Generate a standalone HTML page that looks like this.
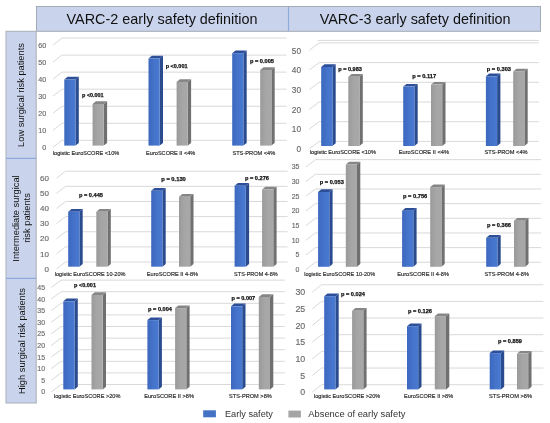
<!DOCTYPE html>
<html><head><meta charset="utf-8"><title>Early safety by surgical risk</title>
<style>
html,body{margin:0;padding:0;background:#fff;}
svg{display:block;font-family:"Liberation Sans", Arial, sans-serif;}
</style></head>
<body>
<svg width="550" height="423" viewBox="0 0 550 423">
<defs>
<linearGradient id="gb" x1="0" y1="0" x2="1" y2="0"><stop offset="0" stop-color="#3C68BE"/><stop offset="0.5" stop-color="#4573CA"/><stop offset="1" stop-color="#4979D2"/></linearGradient>
<linearGradient id="gg" x1="0" y1="0" x2="1" y2="0"><stop offset="0" stop-color="#9A9A9A"/><stop offset="0.5" stop-color="#A6A6A6"/><stop offset="1" stop-color="#A8A8A8"/></linearGradient>
</defs>
<rect width="550" height="423" fill="#fff"/>
<rect x="36.5" y="6.5" width="504" height="24.8" fill="#C9D4EC" stroke="#A4AAB6" stroke-width="1"/>
<line x1="288.5" y1="7" x2="288.5" y2="31" stroke="#8EA9DB" stroke-width="1.2"/>
<text x="162" y="24.1" font-size="14.4" fill="#111" text-anchor="middle">VARC-2 early safety definition</text>
<text x="415.2" y="24.1" font-size="14.4" fill="#111" text-anchor="middle">VARC-3 early safety definition</text>
<rect x="6" y="31.3" width="30.2" height="371.7" fill="#C9D4EC" stroke="#A8AEB8" stroke-width="1"/>
<line x1="6" y1="158.4" x2="36" y2="158.4" stroke="#8EA9DB" stroke-width="1.2"/>
<line x1="6" y1="278.4" x2="36" y2="278.4" stroke="#8EA9DB" stroke-width="1.2"/>
<text transform="translate(23.8,95) rotate(-90)" font-size="9.3" fill="#111" text-anchor="middle">Low surgical risk patients</text>
<text transform="translate(19.3,218.5) rotate(-90)" font-size="9.3" fill="#111" text-anchor="middle">Intermediate surgical</text>
<text transform="translate(30.3,218) rotate(-90)" font-size="9.3" fill="#111" text-anchor="middle">risk patients</text>
<text transform="translate(24.6,341) rotate(-90)" font-size="9.3" fill="#111" text-anchor="middle">High surgical risk patients</text>
<polyline points="53,147.3 61.9,140.3 286.6,140.3" fill="none" stroke="#D9D9D9" stroke-width="1"/>
<text x="46.3" y="147.7" font-size="7.2" fill="#6a6a6a" stroke="#6a6a6a" stroke-width="0.15" text-anchor="end" dominant-baseline="central">0</text>
<polyline points="53,130.26 61.9,123.26 286.6,123.26" fill="none" stroke="#D9D9D9" stroke-width="1"/>
<text x="46.3" y="130.66" font-size="7.2" fill="#6a6a6a" stroke="#6a6a6a" stroke-width="0.15" text-anchor="end" dominant-baseline="central">10</text>
<polyline points="53,113.22 61.9,106.22 286.6,106.22" fill="none" stroke="#D9D9D9" stroke-width="1"/>
<text x="46.3" y="113.62" font-size="7.2" fill="#6a6a6a" stroke="#6a6a6a" stroke-width="0.15" text-anchor="end" dominant-baseline="central">20</text>
<polyline points="53,96.18 61.9,89.18 286.6,89.18" fill="none" stroke="#D9D9D9" stroke-width="1"/>
<text x="46.3" y="96.58" font-size="7.2" fill="#6a6a6a" stroke="#6a6a6a" stroke-width="0.15" text-anchor="end" dominant-baseline="central">30</text>
<polyline points="53,79.14 61.9,72.14 286.6,72.14" fill="none" stroke="#D9D9D9" stroke-width="1"/>
<text x="46.3" y="79.54" font-size="7.2" fill="#6a6a6a" stroke="#6a6a6a" stroke-width="0.15" text-anchor="end" dominant-baseline="central">40</text>
<polyline points="53,62.1 61.9,55.1 286.6,55.1" fill="none" stroke="#D9D9D9" stroke-width="1"/>
<text x="46.3" y="62.5" font-size="7.2" fill="#6a6a6a" stroke="#6a6a6a" stroke-width="0.15" text-anchor="end" dominant-baseline="central">50</text>
<polyline points="53,45.06 61.9,38.06 286.6,38.06" fill="none" stroke="#D9D9D9" stroke-width="1"/>
<text x="46.3" y="45.46" font-size="7.2" fill="#6a6a6a" stroke="#6a6a6a" stroke-width="0.15" text-anchor="end" dominant-baseline="central">60</text>
<polygon points="75.5,79.5 78.8,76.8 78.8,142.9 75.5,145.6" fill="#2B4B8F"/>
<polygon points="64.3,79.5 67.6,76.8 78.8,76.8 75.5,79.5" fill="#2D4E98"/>
<rect x="64.3" y="79.5" width="11.2" height="66.1" fill="url(#gb)"/>
<polygon points="159.7,58.5 163,55.8 163,142.9 159.7,145.6" fill="#2B4B8F"/>
<polygon points="148.5,58.5 151.8,55.8 163,55.8 159.7,58.5" fill="#2D4E98"/>
<rect x="148.5" y="58.5" width="11.2" height="87.1" fill="url(#gb)"/>
<polygon points="243.4,53.2 246.7,50.5 246.7,142.9 243.4,145.6" fill="#2B4B8F"/>
<polygon points="232.2,53.2 235.5,50.5 246.7,50.5 243.4,53.2" fill="#2D4E98"/>
<rect x="232.2" y="53.2" width="11.2" height="92.4" fill="url(#gb)"/>
<polygon points="103.8,104 107.1,101.3 107.1,142.9 103.8,145.6" fill="#707070"/>
<polygon points="92.6,104 95.9,101.3 107.1,101.3 103.8,104" fill="#868686"/>
<rect x="92.6" y="104" width="11.2" height="41.6" fill="url(#gg)"/>
<polygon points="187.8,81.9 191.1,79.2 191.1,142.9 187.8,145.6" fill="#707070"/>
<polygon points="176.6,81.9 179.9,79.2 191.1,79.2 187.8,81.9" fill="#868686"/>
<rect x="176.6" y="81.9" width="11.2" height="63.7" fill="url(#gg)"/>
<polygon points="271.4,70 274.7,67.3 274.7,142.9 271.4,145.6" fill="#707070"/>
<polygon points="260.2,70 263.5,67.3 274.7,67.3 271.4,70" fill="#868686"/>
<rect x="260.2" y="70" width="11.2" height="75.6" fill="url(#gg)"/>
<text x="82.1" y="94.6" font-size="5.7" font-weight="bold" fill="#111" stroke="#111" stroke-width="0.25" dominant-baseline="central" textLength="21.5" lengthAdjust="spacingAndGlyphs">p <0.001</text>
<text x="165.7" y="65.6" font-size="5.7" font-weight="bold" fill="#111" stroke="#111" stroke-width="0.25" dominant-baseline="central" textLength="21.8" lengthAdjust="spacingAndGlyphs">p <0.001</text>
<text x="250" y="60.7" font-size="5.7" font-weight="bold" fill="#111" stroke="#111" stroke-width="0.25" dominant-baseline="central" textLength="24" lengthAdjust="spacingAndGlyphs">p = 0.005</text>
<text x="52.8" y="152.75" font-size="5.9" fill="#262626" stroke="#262626" stroke-width="0.16" dominant-baseline="central" textLength="66.5" lengthAdjust="spacingAndGlyphs">logistic EuroSCORE <10%</text>
<text x="146.1" y="152.75" font-size="5.9" fill="#262626" stroke="#262626" stroke-width="0.16" dominant-baseline="central" textLength="49.2" lengthAdjust="spacingAndGlyphs">EuroSCORE II <4%</text>
<text x="232.4" y="152.75" font-size="5.9" fill="#262626" stroke="#262626" stroke-width="0.16" dominant-baseline="central" textLength="42.9" lengthAdjust="spacingAndGlyphs">STS-PROM <4%</text>
<polyline points="309.3,148.8 319.1,141.4 538.8,141.4" fill="none" stroke="#D9D9D9" stroke-width="1"/>
<text x="301" y="149" font-size="8.3" fill="#6a6a6a" stroke="#6a6a6a" stroke-width="0.15" text-anchor="end" dominant-baseline="central">0</text>
<polyline points="309.3,129.1 319.1,121.7 538.8,121.7" fill="none" stroke="#D9D9D9" stroke-width="1"/>
<text x="301" y="129.3" font-size="8.3" fill="#6a6a6a" stroke="#6a6a6a" stroke-width="0.15" text-anchor="end" dominant-baseline="central">10</text>
<polyline points="309.3,109.4 319.1,102 538.8,102" fill="none" stroke="#D9D9D9" stroke-width="1"/>
<text x="301" y="109.6" font-size="8.3" fill="#6a6a6a" stroke="#6a6a6a" stroke-width="0.15" text-anchor="end" dominant-baseline="central">20</text>
<polyline points="309.3,89.7 319.1,82.3 538.8,82.3" fill="none" stroke="#D9D9D9" stroke-width="1"/>
<text x="301" y="89.9" font-size="8.3" fill="#6a6a6a" stroke="#6a6a6a" stroke-width="0.15" text-anchor="end" dominant-baseline="central">30</text>
<polyline points="309.3,70 319.1,62.6 538.8,62.6" fill="none" stroke="#D9D9D9" stroke-width="1"/>
<text x="301" y="70.2" font-size="8.3" fill="#6a6a6a" stroke="#6a6a6a" stroke-width="0.15" text-anchor="end" dominant-baseline="central">40</text>
<polyline points="309.3,50.3 319.1,42.9 538.8,42.9" fill="none" stroke="#D9D9D9" stroke-width="1"/>
<text x="301" y="50.5" font-size="8.3" fill="#6a6a6a" stroke="#6a6a6a" stroke-width="0.15" text-anchor="end" dominant-baseline="central">50</text>
<line x1="317.6" y1="40.4" x2="538.8" y2="40.4" stroke="#D9D9D9" stroke-width="1"/>
<polygon points="332.4,67 335.7,64.3 335.7,143.3 332.4,146" fill="#2B4B8F"/>
<polygon points="321.2,67 324.5,64.3 335.7,64.3 332.4,67" fill="#2D4E98"/>
<rect x="321.2" y="67" width="11.2" height="79" fill="url(#gb)"/>
<polygon points="414.4,86.6 417.7,83.9 417.7,143.3 414.4,146" fill="#2B4B8F"/>
<polygon points="403.2,86.6 406.5,83.9 417.7,83.9 414.4,86.6" fill="#2D4E98"/>
<rect x="403.2" y="86.6" width="11.2" height="59.4" fill="url(#gb)"/>
<polygon points="497.1,76.3 500.4,73.6 500.4,143.3 497.1,146" fill="#2B4B8F"/>
<polygon points="485.9,76.3 489.2,73.6 500.4,73.6 497.1,76.3" fill="#2D4E98"/>
<rect x="485.9" y="76.3" width="11.2" height="69.7" fill="url(#gb)"/>
<polygon points="359.5,76.8 362.8,74.1 362.8,143.3 359.5,146" fill="#707070"/>
<polygon points="348.3,76.8 351.6,74.1 362.8,74.1 359.5,76.8" fill="#868686"/>
<rect x="348.3" y="76.8" width="11.2" height="69.2" fill="url(#gg)"/>
<polygon points="442.2,84.6 445.5,81.9 445.5,143.3 442.2,146" fill="#707070"/>
<polygon points="431,84.6 434.3,81.9 445.5,81.9 442.2,84.6" fill="#868686"/>
<rect x="431" y="84.6" width="11.2" height="61.4" fill="url(#gg)"/>
<polygon points="524.4,71.4 527.7,68.7 527.7,143.3 524.4,146" fill="#707070"/>
<polygon points="513.2,71.4 516.5,68.7 527.7,68.7 524.4,71.4" fill="#868686"/>
<rect x="513.2" y="71.4" width="11.2" height="74.6" fill="url(#gg)"/>
<text x="338.2" y="68.6" font-size="5.7" font-weight="bold" fill="#111" stroke="#111" stroke-width="0.25" dominant-baseline="central" textLength="23.7" lengthAdjust="spacingAndGlyphs">p = 0.983</text>
<text x="412.3" y="75.6" font-size="5.7" font-weight="bold" fill="#111" stroke="#111" stroke-width="0.25" dominant-baseline="central" textLength="23.8" lengthAdjust="spacingAndGlyphs">p = 0.117</text>
<text x="486.8" y="68.7" font-size="5.7" font-weight="bold" fill="#111" stroke="#111" stroke-width="0.25" dominant-baseline="central" textLength="24.2" lengthAdjust="spacingAndGlyphs">p = 0.303</text>
<text x="309.8" y="151.95" font-size="5.9" fill="#262626" stroke="#262626" stroke-width="0.16" dominant-baseline="central" textLength="66.1" lengthAdjust="spacingAndGlyphs">logistic EuroSCORE <10%</text>
<text x="398.7" y="151.95" font-size="5.9" fill="#262626" stroke="#262626" stroke-width="0.16" dominant-baseline="central" textLength="50.3" lengthAdjust="spacingAndGlyphs">EuroSCORE II <4%</text>
<text x="484.5" y="151.95" font-size="5.9" fill="#262626" stroke="#262626" stroke-width="0.16" dominant-baseline="central" textLength="43.1" lengthAdjust="spacingAndGlyphs">STS-PROM <4%</text>
<polyline points="56.5,269 65.5,262 287.6,262" fill="none" stroke="#D9D9D9" stroke-width="1"/>
<text x="49" y="269.2" font-size="8.0" fill="#6a6a6a" stroke="#6a6a6a" stroke-width="0.15" text-anchor="end" dominant-baseline="central">0</text>
<polyline points="56.5,253.87 65.5,246.87 287.6,246.87" fill="none" stroke="#D9D9D9" stroke-width="1"/>
<text x="49" y="254.07" font-size="8.0" fill="#6a6a6a" stroke="#6a6a6a" stroke-width="0.15" text-anchor="end" dominant-baseline="central">10</text>
<polyline points="56.5,238.74 65.5,231.74 287.6,231.74" fill="none" stroke="#D9D9D9" stroke-width="1"/>
<text x="49" y="238.94" font-size="8.0" fill="#6a6a6a" stroke="#6a6a6a" stroke-width="0.15" text-anchor="end" dominant-baseline="central">20</text>
<polyline points="56.5,223.61 65.5,216.61 287.6,216.61" fill="none" stroke="#D9D9D9" stroke-width="1"/>
<text x="49" y="223.81" font-size="8.0" fill="#6a6a6a" stroke="#6a6a6a" stroke-width="0.15" text-anchor="end" dominant-baseline="central">30</text>
<polyline points="56.5,208.48 65.5,201.48 287.6,201.48" fill="none" stroke="#D9D9D9" stroke-width="1"/>
<text x="49" y="208.68" font-size="8.0" fill="#6a6a6a" stroke="#6a6a6a" stroke-width="0.15" text-anchor="end" dominant-baseline="central">40</text>
<polyline points="56.5,193.35 65.5,186.35 287.6,186.35" fill="none" stroke="#D9D9D9" stroke-width="1"/>
<text x="49" y="193.55" font-size="8.0" fill="#6a6a6a" stroke="#6a6a6a" stroke-width="0.15" text-anchor="end" dominant-baseline="central">50</text>
<polyline points="56.5,178.22 65.5,171.22 287.6,171.22" fill="none" stroke="#D9D9D9" stroke-width="1"/>
<text x="49" y="178.42" font-size="8.0" fill="#6a6a6a" stroke="#6a6a6a" stroke-width="0.15" text-anchor="end" dominant-baseline="central">60</text>
<polygon points="79.4,211.7 82.7,209 82.7,264 79.4,266.7" fill="#2B4B8F"/>
<polygon points="68.2,211.7 71.5,209 82.7,209 79.4,211.7" fill="#2D4E98"/>
<rect x="68.2" y="211.7" width="11.2" height="55" fill="url(#gb)"/>
<polygon points="162.4,190.7 165.7,188 165.7,264 162.4,266.7" fill="#2B4B8F"/>
<polygon points="151.2,190.7 154.5,188 165.7,188 162.4,190.7" fill="#2D4E98"/>
<rect x="151.2" y="190.7" width="11.2" height="76" fill="url(#gb)"/>
<polygon points="245.8,185.7 249.1,183 249.1,264 245.8,266.7" fill="#2B4B8F"/>
<polygon points="234.6,185.7 237.9,183 249.1,183 245.8,185.7" fill="#2D4E98"/>
<rect x="234.6" y="185.7" width="11.2" height="81" fill="url(#gb)"/>
<polygon points="107.5,211.7 110.8,209 110.8,264 107.5,266.7" fill="#707070"/>
<polygon points="96.3,211.7 99.6,209 110.8,209 107.5,211.7" fill="#868686"/>
<rect x="96.3" y="211.7" width="11.2" height="55" fill="url(#gg)"/>
<polygon points="190.2,196.7 193.5,194 193.5,264 190.2,266.7" fill="#707070"/>
<polygon points="179,196.7 182.3,194 193.5,194 190.2,196.7" fill="#868686"/>
<rect x="179" y="196.7" width="11.2" height="70" fill="url(#gg)"/>
<polygon points="273.3,189.5 276.6,186.8 276.6,264 273.3,266.7" fill="#707070"/>
<polygon points="262.1,189.5 265.4,186.8 276.6,186.8 273.3,189.5" fill="#868686"/>
<rect x="262.1" y="189.5" width="11.2" height="77.2" fill="url(#gg)"/>
<text x="79" y="194.7" font-size="5.7" font-weight="bold" fill="#111" stroke="#111" stroke-width="0.25" dominant-baseline="central" textLength="24" lengthAdjust="spacingAndGlyphs">p = 0.445</text>
<text x="161.3" y="179.4" font-size="5.7" font-weight="bold" fill="#111" stroke="#111" stroke-width="0.25" dominant-baseline="central" textLength="24.5" lengthAdjust="spacingAndGlyphs">p = 0.130</text>
<text x="245" y="177.7" font-size="5.7" font-weight="bold" fill="#111" stroke="#111" stroke-width="0.25" dominant-baseline="central" textLength="24" lengthAdjust="spacingAndGlyphs">p = 0.276</text>
<text x="54.8" y="274.35" font-size="5.9" fill="#262626" stroke="#262626" stroke-width="0.16" dominant-baseline="central" textLength="70.7" lengthAdjust="spacingAndGlyphs">logistic EuroSCORE 10-20%</text>
<text x="146.8" y="274.35" font-size="5.9" fill="#262626" stroke="#262626" stroke-width="0.16" dominant-baseline="central" textLength="51.3" lengthAdjust="spacingAndGlyphs">EuroSCORE II 4-8%</text>
<text x="234.1" y="274.35" font-size="5.9" fill="#262626" stroke="#262626" stroke-width="0.16" dominant-baseline="central" textLength="43.6" lengthAdjust="spacingAndGlyphs">STS-PROM 4-8%</text>
<polyline points="305.9,269.67 315.3,262.27 541,262.27" fill="none" stroke="#D9D9D9" stroke-width="1"/>
<text x="299.3" y="269.57" font-size="6.9" fill="#6a6a6a" stroke="#6a6a6a" stroke-width="0.15" text-anchor="end" dominant-baseline="central">0</text>
<polyline points="305.9,255.01 315.3,247.61 541,247.61" fill="none" stroke="#D9D9D9" stroke-width="1"/>
<text x="299.3" y="254.91" font-size="6.9" fill="#6a6a6a" stroke="#6a6a6a" stroke-width="0.15" text-anchor="end" dominant-baseline="central">5</text>
<polyline points="305.9,240.35 315.3,232.95 541,232.95" fill="none" stroke="#D9D9D9" stroke-width="1"/>
<text x="299.3" y="240.25" font-size="6.9" fill="#6a6a6a" stroke="#6a6a6a" stroke-width="0.15" text-anchor="end" dominant-baseline="central">10</text>
<polyline points="305.9,225.69 315.3,218.29 541,218.29" fill="none" stroke="#D9D9D9" stroke-width="1"/>
<text x="299.3" y="225.59" font-size="6.9" fill="#6a6a6a" stroke="#6a6a6a" stroke-width="0.15" text-anchor="end" dominant-baseline="central">15</text>
<polyline points="305.9,211.03 315.3,203.63 541,203.63" fill="none" stroke="#D9D9D9" stroke-width="1"/>
<text x="299.3" y="210.93" font-size="6.9" fill="#6a6a6a" stroke="#6a6a6a" stroke-width="0.15" text-anchor="end" dominant-baseline="central">20</text>
<polyline points="305.9,196.37 315.3,188.97 541,188.97" fill="none" stroke="#D9D9D9" stroke-width="1"/>
<text x="299.3" y="196.27" font-size="6.9" fill="#6a6a6a" stroke="#6a6a6a" stroke-width="0.15" text-anchor="end" dominant-baseline="central">25</text>
<polyline points="305.9,181.71 315.3,174.31 541,174.31" fill="none" stroke="#D9D9D9" stroke-width="1"/>
<text x="299.3" y="181.61" font-size="6.9" fill="#6a6a6a" stroke="#6a6a6a" stroke-width="0.15" text-anchor="end" dominant-baseline="central">30</text>
<polyline points="305.9,167.05 315.3,159.65 541,159.65" fill="none" stroke="#D9D9D9" stroke-width="1"/>
<text x="299.3" y="166.95" font-size="6.9" fill="#6a6a6a" stroke="#6a6a6a" stroke-width="0.15" text-anchor="end" dominant-baseline="central">35</text>
<polygon points="329.3,192 332.6,189.3 332.6,264.1 329.3,266.8" fill="#2B4B8F"/>
<polygon points="318.1,192 321.4,189.3 332.6,189.3 329.3,192" fill="#2D4E98"/>
<rect x="318.1" y="192" width="11.2" height="74.8" fill="url(#gb)"/>
<polygon points="413.3,210.7 416.6,208 416.6,264.1 413.3,266.8" fill="#2B4B8F"/>
<polygon points="402.1,210.7 405.4,208 416.6,208 413.3,210.7" fill="#2D4E98"/>
<rect x="402.1" y="210.7" width="11.2" height="56.1" fill="url(#gb)"/>
<polygon points="497.4,237.8 500.7,235.1 500.7,264.1 497.4,266.8" fill="#2B4B8F"/>
<polygon points="486.2,237.8 489.5,235.1 500.7,235.1 497.4,237.8" fill="#2D4E98"/>
<rect x="486.2" y="237.8" width="11.2" height="29" fill="url(#gb)"/>
<polygon points="357,164.5 360.3,161.8 360.3,264.1 357,266.8" fill="#707070"/>
<polygon points="345.8,164.5 349.1,161.8 360.3,161.8 357,164.5" fill="#868686"/>
<rect x="345.8" y="164.5" width="11.2" height="102.3" fill="url(#gg)"/>
<polygon points="441.4,187.1 444.7,184.4 444.7,264.1 441.4,266.8" fill="#707070"/>
<polygon points="430.2,187.1 433.5,184.4 444.7,184.4 441.4,187.1" fill="#868686"/>
<rect x="430.2" y="187.1" width="11.2" height="79.7" fill="url(#gg)"/>
<polygon points="525.2,220.7 528.5,218 528.5,264.1 525.2,266.8" fill="#707070"/>
<polygon points="514,220.7 517.3,218 528.5,218 525.2,220.7" fill="#868686"/>
<rect x="514" y="220.7" width="11.2" height="46.1" fill="url(#gg)"/>
<text x="319.8" y="182" font-size="5.7" font-weight="bold" fill="#111" stroke="#111" stroke-width="0.25" dominant-baseline="central" textLength="24" lengthAdjust="spacingAndGlyphs">p = 0.053</text>
<text x="403" y="196" font-size="5.7" font-weight="bold" fill="#111" stroke="#111" stroke-width="0.25" dominant-baseline="central" textLength="24.3" lengthAdjust="spacingAndGlyphs">p = 0.756</text>
<text x="487" y="224.6" font-size="5.7" font-weight="bold" fill="#111" stroke="#111" stroke-width="0.25" dominant-baseline="central" textLength="24" lengthAdjust="spacingAndGlyphs">p = 0.366</text>
<text x="304.2" y="273.75" font-size="5.9" fill="#262626" stroke="#262626" stroke-width="0.16" dominant-baseline="central" textLength="70.9" lengthAdjust="spacingAndGlyphs">logistic EuroSCORE 10-20%</text>
<text x="397.3" y="273.75" font-size="5.9" fill="#262626" stroke="#262626" stroke-width="0.16" dominant-baseline="central" textLength="51.7" lengthAdjust="spacingAndGlyphs">EuroSCORE II 4-8%</text>
<text x="484.5" y="273.75" font-size="5.9" fill="#262626" stroke="#262626" stroke-width="0.16" dominant-baseline="central" textLength="44.5" lengthAdjust="spacingAndGlyphs">STS-PROM 4-8%</text>
<polyline points="51.2,391.9 61.1,384.5 284.8,384.5" fill="none" stroke="#D9D9D9" stroke-width="1"/>
<text x="45.1" y="391.9" font-size="7.0" fill="#6a6a6a" stroke="#6a6a6a" stroke-width="0.15" text-anchor="end" dominant-baseline="central">0</text>
<polyline points="51.2,380.3 61.1,372.9 284.8,372.9" fill="none" stroke="#D9D9D9" stroke-width="1"/>
<text x="45.1" y="380.3" font-size="7.0" fill="#6a6a6a" stroke="#6a6a6a" stroke-width="0.15" text-anchor="end" dominant-baseline="central">5</text>
<polyline points="51.2,368.7 61.1,361.3 284.8,361.3" fill="none" stroke="#D9D9D9" stroke-width="1"/>
<text x="45.1" y="368.7" font-size="7.0" fill="#6a6a6a" stroke="#6a6a6a" stroke-width="0.15" text-anchor="end" dominant-baseline="central">10</text>
<polyline points="51.2,357.1 61.1,349.7 284.8,349.7" fill="none" stroke="#D9D9D9" stroke-width="1"/>
<text x="45.1" y="357.1" font-size="7.0" fill="#6a6a6a" stroke="#6a6a6a" stroke-width="0.15" text-anchor="end" dominant-baseline="central">15</text>
<polyline points="51.2,345.5 61.1,338.1 284.8,338.1" fill="none" stroke="#D9D9D9" stroke-width="1"/>
<text x="45.1" y="345.5" font-size="7.0" fill="#6a6a6a" stroke="#6a6a6a" stroke-width="0.15" text-anchor="end" dominant-baseline="central">20</text>
<polyline points="51.2,333.9 61.1,326.5 284.8,326.5" fill="none" stroke="#D9D9D9" stroke-width="1"/>
<text x="45.1" y="333.9" font-size="7.0" fill="#6a6a6a" stroke="#6a6a6a" stroke-width="0.15" text-anchor="end" dominant-baseline="central">25</text>
<polyline points="51.2,322.3 61.1,314.9 284.8,314.9" fill="none" stroke="#D9D9D9" stroke-width="1"/>
<text x="45.1" y="322.3" font-size="7.0" fill="#6a6a6a" stroke="#6a6a6a" stroke-width="0.15" text-anchor="end" dominant-baseline="central">30</text>
<polyline points="51.2,310.7 61.1,303.3 284.8,303.3" fill="none" stroke="#D9D9D9" stroke-width="1"/>
<text x="45.1" y="310.7" font-size="7.0" fill="#6a6a6a" stroke="#6a6a6a" stroke-width="0.15" text-anchor="end" dominant-baseline="central">35</text>
<polyline points="51.2,299.1 61.1,291.7 284.8,291.7" fill="none" stroke="#D9D9D9" stroke-width="1"/>
<text x="45.1" y="299.1" font-size="7.0" fill="#6a6a6a" stroke="#6a6a6a" stroke-width="0.15" text-anchor="end" dominant-baseline="central">40</text>
<polyline points="51.2,287.5 61.1,280.1 284.8,280.1" fill="none" stroke="#D9D9D9" stroke-width="1"/>
<text x="45.1" y="287.5" font-size="7.0" fill="#6a6a6a" stroke="#6a6a6a" stroke-width="0.15" text-anchor="end" dominant-baseline="central">45</text>
<polygon points="74.5,301.3 77.8,298.6 77.8,386.7 74.5,389.4" fill="#2B4B8F"/>
<polygon points="63.3,301.3 66.6,298.6 77.8,298.6 74.5,301.3" fill="#2D4E98"/>
<rect x="63.3" y="301.3" width="11.2" height="88.1" fill="url(#gb)"/>
<polygon points="158.6,320.1 161.9,317.4 161.9,386.7 158.6,389.4" fill="#2B4B8F"/>
<polygon points="147.4,320.1 150.7,317.4 161.9,317.4 158.6,320.1" fill="#2D4E98"/>
<rect x="147.4" y="320.1" width="11.2" height="69.3" fill="url(#gb)"/>
<polygon points="242.2,306.3 245.5,303.6 245.5,386.7 242.2,389.4" fill="#2B4B8F"/>
<polygon points="231,306.3 234.3,303.6 245.5,303.6 242.2,306.3" fill="#2D4E98"/>
<rect x="231" y="306.3" width="11.2" height="83.1" fill="url(#gb)"/>
<polygon points="102.7,295 106,292.3 106,386.7 102.7,389.4" fill="#707070"/>
<polygon points="91.5,295 94.8,292.3 106,292.3 102.7,295" fill="#868686"/>
<rect x="91.5" y="295" width="11.2" height="94.4" fill="url(#gg)"/>
<polygon points="186.3,308.1 189.6,305.4 189.6,386.7 186.3,389.4" fill="#707070"/>
<polygon points="175.1,308.1 178.4,305.4 189.6,305.4 186.3,308.1" fill="#868686"/>
<rect x="175.1" y="308.1" width="11.2" height="81.3" fill="url(#gg)"/>
<polygon points="270,297 273.3,294.3 273.3,386.7 270,389.4" fill="#707070"/>
<polygon points="258.8,297 262.1,294.3 273.3,294.3 270,297" fill="#868686"/>
<rect x="258.8" y="297" width="11.2" height="92.4" fill="url(#gg)"/>
<text x="74.1" y="285.1" font-size="5.7" font-weight="bold" fill="#111" stroke="#111" stroke-width="0.25" dominant-baseline="central" textLength="21.9" lengthAdjust="spacingAndGlyphs">p <0.001</text>
<text x="148.1" y="309.4" font-size="5.7" font-weight="bold" fill="#111" stroke="#111" stroke-width="0.25" dominant-baseline="central" textLength="23.8" lengthAdjust="spacingAndGlyphs">p = 0.004</text>
<text x="231.5" y="298.4" font-size="5.7" font-weight="bold" fill="#111" stroke="#111" stroke-width="0.25" dominant-baseline="central" textLength="23.7" lengthAdjust="spacingAndGlyphs">p = 0.007</text>
<text x="54" y="395.55" font-size="5.9" fill="#262626" stroke="#262626" stroke-width="0.16" dominant-baseline="central" textLength="66.4" lengthAdjust="spacingAndGlyphs">logistic EuroSCORE >20%</text>
<text x="144.2" y="395.55" font-size="5.9" fill="#262626" stroke="#262626" stroke-width="0.16" dominant-baseline="central" textLength="49.8" lengthAdjust="spacingAndGlyphs">EuroSCORE II >8%</text>
<text x="229.1" y="395.55" font-size="5.9" fill="#262626" stroke="#262626" stroke-width="0.16" dominant-baseline="central" textLength="42.7" lengthAdjust="spacingAndGlyphs">STS-PROM >8%</text>
<polyline points="312.3,392.1 321.5,384.7 543.4,384.7" fill="none" stroke="#D9D9D9" stroke-width="1"/>
<text x="305.2" y="392.2" font-size="8.8" fill="#6a6a6a" stroke="#6a6a6a" stroke-width="0.15" text-anchor="end" dominant-baseline="central">0</text>
<polyline points="312.3,375.44 321.5,368.04 543.4,368.04" fill="none" stroke="#D9D9D9" stroke-width="1"/>
<text x="305.2" y="375.54" font-size="8.8" fill="#6a6a6a" stroke="#6a6a6a" stroke-width="0.15" text-anchor="end" dominant-baseline="central">5</text>
<polyline points="312.3,358.78 321.5,351.38 543.4,351.38" fill="none" stroke="#D9D9D9" stroke-width="1"/>
<text x="305.2" y="358.88" font-size="8.8" fill="#6a6a6a" stroke="#6a6a6a" stroke-width="0.15" text-anchor="end" dominant-baseline="central">10</text>
<polyline points="312.3,342.12 321.5,334.72 543.4,334.72" fill="none" stroke="#D9D9D9" stroke-width="1"/>
<text x="305.2" y="342.22" font-size="8.8" fill="#6a6a6a" stroke="#6a6a6a" stroke-width="0.15" text-anchor="end" dominant-baseline="central">15</text>
<polyline points="312.3,325.46 321.5,318.06 543.4,318.06" fill="none" stroke="#D9D9D9" stroke-width="1"/>
<text x="305.2" y="325.56" font-size="8.8" fill="#6a6a6a" stroke="#6a6a6a" stroke-width="0.15" text-anchor="end" dominant-baseline="central">20</text>
<polyline points="312.3,308.8 321.5,301.4 543.4,301.4" fill="none" stroke="#D9D9D9" stroke-width="1"/>
<text x="305.2" y="308.9" font-size="8.8" fill="#6a6a6a" stroke="#6a6a6a" stroke-width="0.15" text-anchor="end" dominant-baseline="central">25</text>
<polyline points="312.3,292.14 321.5,284.74 543.4,284.74" fill="none" stroke="#D9D9D9" stroke-width="1"/>
<text x="305.2" y="292.24" font-size="8.8" fill="#6a6a6a" stroke="#6a6a6a" stroke-width="0.15" text-anchor="end" dominant-baseline="central">30</text>
<polygon points="335.4,296.2 338.7,293.5 338.7,386.7 335.4,389.4" fill="#2B4B8F"/>
<polygon points="324.2,296.2 327.5,293.5 338.7,293.5 335.4,296.2" fill="#2D4E98"/>
<rect x="324.2" y="296.2" width="11.2" height="93.2" fill="url(#gb)"/>
<polygon points="418.2,326.2 421.5,323.5 421.5,386.7 418.2,389.4" fill="#2B4B8F"/>
<polygon points="407,326.2 410.3,323.5 421.5,323.5 418.2,326.2" fill="#2D4E98"/>
<rect x="407" y="326.2" width="11.2" height="63.2" fill="url(#gb)"/>
<polygon points="500.9,353.1 504.2,350.4 504.2,386.7 500.9,389.4" fill="#2B4B8F"/>
<polygon points="489.7,353.1 493,350.4 504.2,350.4 500.9,353.1" fill="#2D4E98"/>
<rect x="489.7" y="353.1" width="11.2" height="36.3" fill="url(#gb)"/>
<polygon points="363.3,310.8 366.6,308.1 366.6,386.7 363.3,389.4" fill="#707070"/>
<polygon points="352.1,310.8 355.4,308.1 366.6,308.1 363.3,310.8" fill="#868686"/>
<rect x="352.1" y="310.8" width="11.2" height="78.6" fill="url(#gg)"/>
<polygon points="446,316.1 449.3,313.4 449.3,386.7 446,389.4" fill="#707070"/>
<polygon points="434.8,316.1 438.1,313.4 449.3,313.4 446,316.1" fill="#868686"/>
<rect x="434.8" y="316.1" width="11.2" height="73.3" fill="url(#gg)"/>
<polygon points="528.2,353.6 531.5,350.9 531.5,386.7 528.2,389.4" fill="#707070"/>
<polygon points="517,353.6 520.3,350.9 531.5,350.9 528.2,353.6" fill="#868686"/>
<rect x="517" y="353.6" width="11.2" height="35.8" fill="url(#gg)"/>
<text x="341" y="293.8" font-size="5.7" font-weight="bold" fill="#111" stroke="#111" stroke-width="0.25" dominant-baseline="central" textLength="24" lengthAdjust="spacingAndGlyphs">p = 0.024</text>
<text x="408" y="310.9" font-size="5.7" font-weight="bold" fill="#111" stroke="#111" stroke-width="0.25" dominant-baseline="central" textLength="24" lengthAdjust="spacingAndGlyphs">p = 0.126</text>
<text x="498" y="340.6" font-size="5.7" font-weight="bold" fill="#111" stroke="#111" stroke-width="0.25" dominant-baseline="central" textLength="24" lengthAdjust="spacingAndGlyphs">p = 0.859</text>
<text x="314" y="396.15" font-size="5.9" fill="#262626" stroke="#262626" stroke-width="0.16" dominant-baseline="central" textLength="66.2" lengthAdjust="spacingAndGlyphs">logistic EuroSCORE >20%</text>
<text x="404" y="396.15" font-size="5.9" fill="#262626" stroke="#262626" stroke-width="0.16" dominant-baseline="central" textLength="49.1" lengthAdjust="spacingAndGlyphs">EuroSCORE II >8%</text>
<text x="488.9" y="396.15" font-size="5.9" fill="#262626" stroke="#262626" stroke-width="0.16" dominant-baseline="central" textLength="43.1" lengthAdjust="spacingAndGlyphs">STS-PROM >8%</text>
<rect x="203.2" y="410.3" width="12.7" height="7" fill="#4472C4"/>
<text x="224.9" y="417.2" font-size="9.2" fill="#333">Early safety</text>
<rect x="288.4" y="410.6" width="12.5" height="6.9" fill="#A5A5A5"/>
<text x="308.3" y="417.2" font-size="9.35" fill="#333">Absence of early safety</text>
</svg>
</body></html>
